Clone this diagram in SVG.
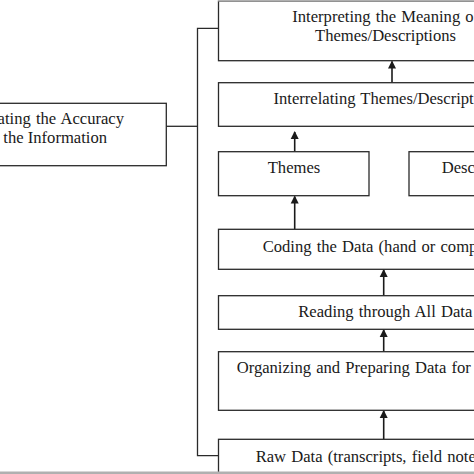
<svg xmlns="http://www.w3.org/2000/svg" width="474" height="474" viewBox="0 0 474 474">
<defs>
<style>
.box{fill:#fff;stroke:#2a2a2a;stroke-width:1.3}
.t{font-family:"Liberation Serif","Times New Roman",serif;font-size:16.6px;fill:#1a1a1a}
.c{fill:none;stroke:#2a2a2a;stroke-width:1.3}
.a{fill:none;stroke:#1a1a1a;stroke-width:1.6;marker-end:url(#ah)}
</style>
<marker id="ah" viewBox="0 0 8 10" refX="7" refY="5" markerWidth="8" markerHeight="10" markerUnits="userSpaceOnUse" orient="auto">
<path d="M0,1 L8,5 L0,9 Z" fill="#1a1a1a"/>
</marker>
</defs>
<rect width="474" height="474" fill="#fff"/>
<g id="connectors">
<polyline class="c" points="166,126.3 197.5,126.3"/>
<polyline class="c" points="218,28.3 197.5,28.3 197.5,455.7 218,455.7"/>
<line class="a" x1="392" y1="82.7" x2="392" y2="61.5"/>
<line class="a" x1="294.7" y1="151.7" x2="294.7" y2="132"/>
<line class="a" x1="294.7" y1="229.3" x2="294.7" y2="196.5"/>
<line class="a" x1="383.7" y1="295.7" x2="383.7" y2="270"/>
<line class="a" x1="383.7" y1="351.7" x2="383.7" y2="330"/>
<line class="a" x1="383.7" y1="439.3" x2="383.7" y2="411"/>
</g>
<g id="validating">
<rect class="box" x="-10" y="103.3" width="176.3" height="62.4"/>
<text class="t" x="124" y="124" text-anchor="end" word-spacing="1">ating the Accuracy</text>
<text class="t" x="107" y="143.3" text-anchor="end">the Information</text>
</g>
<g id="interpreting">
<rect class="box" x="218.5" y="1" width="340" height="59.7"/>
<text class="t" x="292.3" y="22" word-spacing="1">Interpreting the Meaning o</text>
<text class="t" x="315" y="41">Themes/Descriptions</text>
</g>
<g id="interrelating">
<rect class="box" x="218.5" y="82.7" width="340" height="43.6"/>
<text class="t" x="273.5" y="104" word-spacing="1">Interrelating Themes/Descript</text>
</g>
<g id="themes">
<rect class="box" x="218.5" y="151.7" width="150.5" height="44"/>
<text class="t" x="294" y="173.3" text-anchor="middle">Themes</text>
</g>
<g id="descriptions">
<rect class="box" x="409" y="151.7" width="150" height="44"/>
<text class="t" x="441.7" y="173.3">Desc</text>
</g>
<g id="coding">
<rect class="box" x="218.5" y="229.3" width="340" height="40"/>
<text class="t" x="262.7" y="251.7" word-spacing="1">Coding the Data (hand or comp</text>
</g>
<g id="reading">
<rect class="box" x="218.5" y="295.7" width="340" height="33.6"/>
<text class="t" x="298.3" y="317.3" word-spacing="1">Reading through All Data</text>
</g>
<g id="organizing">
<rect class="box" x="218.5" y="351.7" width="340" height="58.6"/>
<text class="t" x="236.7" y="373.3" word-spacing="1">Organizing and Preparing Data for</text>
</g>
<g id="rawdata">
<rect class="box" x="218.5" y="439.3" width="340" height="50"/>
<text class="t" x="255.7" y="461.7" word-spacing="1">Raw Data (transcripts, field note</text>
</g>
<rect x="0" y="471.5" width="474" height="2.5" fill="#b0b0b0"/>
<rect x="218" y="0" width="256" height="1.5" fill="#b0b0b0"/>
</svg>
